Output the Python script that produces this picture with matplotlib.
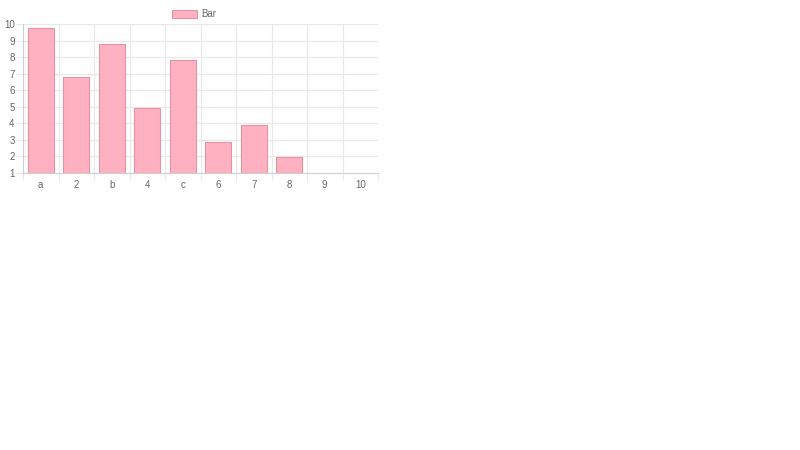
import matplotlib.pyplot as plt
import numpy as np
from matplotlib.patches import Rectangle

categories = ["a", "2", "b", "4", "c", "6", "7", "8", "9", "10"]
values = [9.75, 6.8, 8.8, 4.9, 7.8, 2.9, 3.9, 1.95, None, None]
series_name = "Bar"
y_ticks = list(range(1, 11))

fill = "#ffb1c1"
edge = "#e594a6"
grid_c = "#e8e8e8"
text_c = "#666666"

plt.rcParams["font.family"] = ["Liberation Sans", "DejaVu Sans"]

fig = plt.figure(figsize=(8, 4.5), dpi=100)
ax = fig.add_axes([23 / 800, 1 - 173 / 450, 355 / 800, 149 / 450])

base = 1
xs = [i for i, v in enumerate(values) if v is not None]
hs = [values[i] - base for i in xs]
ax.bar(xs, hs, bottom=base, width=0.72, color=fill, edgecolor=edge, linewidth=0.8, zorder=3)

ax.set_xlim(-0.5, len(categories) - 0.5)
ax.set_ylim(1, 10)
ax.set_yticks(y_ticks)
ax.set_xticks(range(len(categories)))
ax.set_xticklabels(categories)
ax.set_xticks(np.arange(-0.5, len(categories)), minor=True)

ax.grid(True, which="major", axis="y", color=grid_c, linewidth=0.8, alpha=1, zorder=0)
ax.grid(True, which="minor", axis="x", color=grid_c, linewidth=0.8, alpha=1, zorder=0)
ax.set_axisbelow(True)
ax.tick_params(axis="y", length=5, width=0.8, color=grid_c, labelsize=7, labelcolor=text_c, pad=1)
ax.tick_params(axis="x", which="major", length=0, labelsize=7, labelcolor=text_c, pad=5)
ax.tick_params(axis="x", which="minor", length=5, width=0.8, color=grid_c)
for s in ["top", "right"]:
    ax.spines[s].set_visible(False)
for s in ["left", "bottom"]:
    ax.spines[s].set_color("#cfcfcf")
    ax.spines[s].set_linewidth(0.8)

# legend
fig.patches.append(Rectangle((172 / 800, 1 - 18 / 450), 25 / 800, 8 / 450,
                             transform=fig.transFigure, facecolor=fill, edgecolor=edge, linewidth=0.8))
fig.text(201 / 800, 1 - 14 / 450, series_name, fontsize=7, color=text_c, va="center", ha="left")

fig.savefig("out.png", dpi=100)
